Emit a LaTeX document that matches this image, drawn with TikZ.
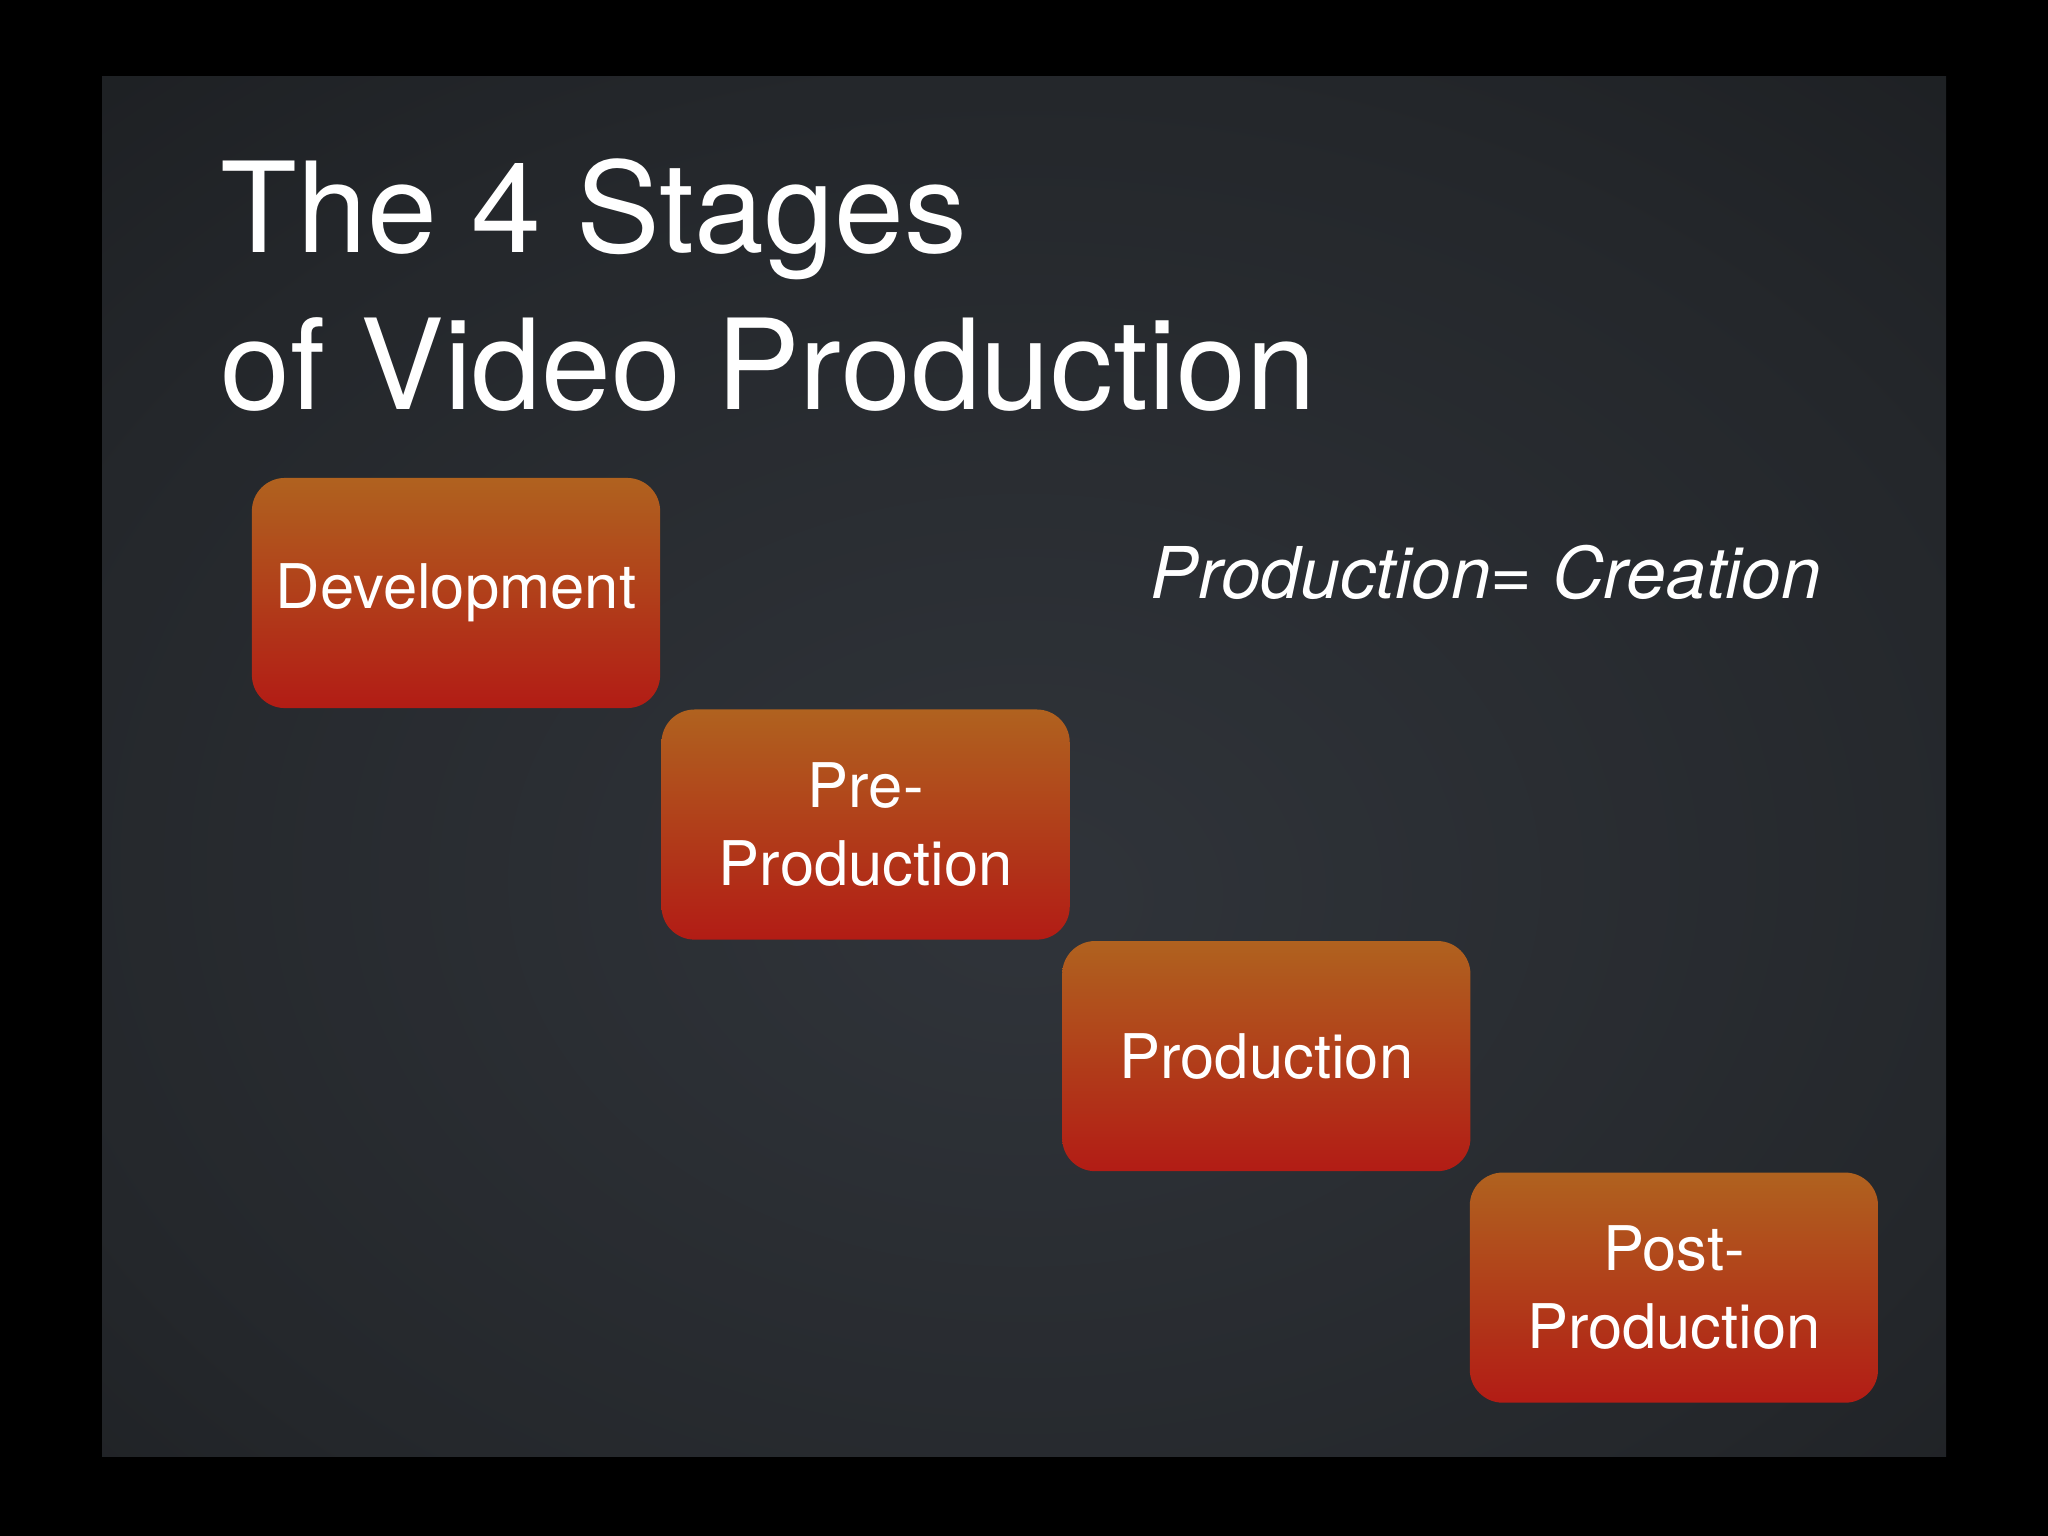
\documentclass[tikz,border=0pt]{standalone}
\usepackage{fontspec}
\setmainfont{TeX Gyre Heros}
\usetikzlibrary{positioning,shadings}

\definecolor{bgin}{HTML}{30343A}
\definecolor{bgmid}{HTML}{24272B}
\definecolor{bgout}{HTML}{121416}
\definecolor{boxtop}{HTML}{B0621F}
\definecolor{boxbot}{HTML}{B21C15}

\pgfdeclareradialshading{slideglow}{\pgfpoint{0bp}{-5bp}}{color(0bp)=(bgin); color(28bp)=(bgmid); color(55bp)=(bgout); color(80bp)=(bgout)}

\tikzset{stagebox/.style={rounded corners=0.33cm, minimum width=4.08cm, minimum height=2.3cm,
            top color=boxtop, bottom color=boxbot, text=white, align=center, inner sep=0pt,
            font=\fontsize{17.5}{22.2}\selectfont}}

\begin{document}
\begin{tikzpicture}[x=0.01cm, y=-0.01cm]
        % page and slide
        \fill[black] (0,0) rectangle (2048,1536);
        \useasboundingbox (0,0) rectangle (2048,1536);
        \shade[shading=slideglow] (102,76) rectangle (1946,1456);

        % title
        \node[anchor=north west, inner sep=0pt, align=left, text=white,
              font=\fontsize{35.7}{44.7}\selectfont] (title) at (220,158)
              {The 4 Stages\\of Video Production};

        % stages
        \node[stagebox] (dev) at (456,593) {Development};
        \node[stagebox, below right=0cm and 0cm of dev] (pre) {Pre-\\Production};
        \node[stagebox, below right=0cm and -0.09cm of pre] (prod) {Production};
        \node[stagebox, below right=0cm and -0.02cm of prod] (post) {Post-\\Production};

        \node[anchor=base west, inner sep=0pt, text=white,
              font=\fontsize{20.3}{24}\selectfont\itshape] (note) at (1150,598)
              {Production= Creation};
\end{tikzpicture}
\end{document}
